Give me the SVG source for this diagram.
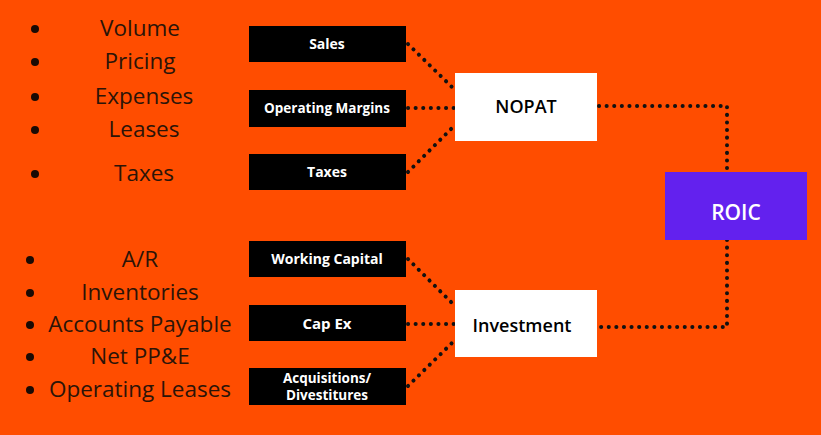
<svg xmlns="http://www.w3.org/2000/svg" width="821" height="435" viewBox="0 0 821 435">
<style>
.bl{fill:#000}
.bt{fill:#fff;font-family:"Open Sans",sans-serif;font-weight:bold;font-size:14px;text-anchor:middle}
.wt{fill:#000;font-family:"Open Sans",sans-serif;font-size:18px;font-weight:600;text-anchor:middle}
.lt{fill:#2b1408;font-family:"Open Sans",sans-serif;font-size:22.5px;text-anchor:middle}
.dot{fill:#1a0a04}
.c{fill:none;stroke:#111;stroke-width:4;stroke-dasharray:0.1 7.5;stroke-linecap:round}
</style>
<rect width="821" height="435" fill="#FF4D00"/>
<g id="left-list">
<circle class="dot" cx="35" cy="29" r="4"/><text class="lt" x="140" y="36">Volume</text>
<circle class="dot" cx="35" cy="62" r="4"/><text class="lt" x="140" y="69">Pricing</text>
<circle class="dot" cx="35" cy="97" r="4"/><text class="lt" x="144" y="104">Expenses</text>
<circle class="dot" cx="35" cy="130" r="4"/><text class="lt" x="144" y="137">Leases</text>
<circle class="dot" cx="35" cy="174" r="4"/><text class="lt" x="144" y="181">Taxes</text>
<circle class="dot" cx="30" cy="260" r="4"/><text class="lt" x="140" y="267">A/R</text>
<circle class="dot" cx="30" cy="293" r="4"/><text class="lt" x="140" y="300">Inventories</text>
<circle class="dot" cx="30" cy="325" r="4"/><text class="lt" x="140" y="332">Accounts Payable</text>
<circle class="dot" cx="30" cy="357" r="4"/><text class="lt" x="140" y="364">Net PP&amp;E</text>
<circle class="dot" cx="30" cy="390" r="4"/><text class="lt" x="140" y="397">Operating Leases</text>
</g>
<g id="connectors">
<path class="c" d="M408 44 L455 90"/>
<path class="c" d="M408 108 L455 108"/>
<path class="c" d="M408 172 L455 125"/>
<path class="c" d="M599 106 L727 106 L727 172"/>
<path class="c" d="M727 240 L727 327 L599 327"/>
<path class="c" d="M408 259 L455 306"/>
<path class="c" d="M408 324 L455 324"/>
<path class="c" d="M408 386 L455 340"/>
</g>
<g id="sales"><rect class="bl" x="249" y="26" width="157" height="36"/><text class="bt" x="327" y="49">Sales</text></g>
<g id="opmargins"><rect class="bl" x="249" y="90" width="157" height="37"/><text class="bt" x="327" y="113" style="font-size:13.5px">Operating Margins</text></g>
<g id="taxes"><rect class="bl" x="249" y="154" width="157" height="36"/><text class="bt" x="327" y="177">Taxes</text></g>
<g id="wc"><rect class="bl" x="249" y="241" width="157" height="36"/><text class="bt" x="327" y="264" style="font-size:14px">Working Capital</text></g>
<g id="capex"><rect class="bl" x="249" y="305" width="157" height="36"/><text class="bt" x="327" y="329" style="font-size:15px">Cap Ex</text></g>
<g id="acq"><rect class="bl" x="249" y="368" width="157" height="37"/><text class="bt" x="327" y="383" style="font-size:13.5px">Acquisitions/</text><text class="bt" x="327" y="400" style="font-size:13.5px">Divestitures</text></g>
<g id="nopat"><rect fill="#fff" x="455" y="73" width="142" height="68"/><text class="wt" x="526" y="113">NOPAT</text></g>
<g id="investment"><rect fill="#fff" x="455" y="290" width="142" height="67"/><text class="wt" x="522" y="332">Investment</text></g>
<g id="roic"><rect fill="#6321EE" x="665" y="172" width="142" height="68"/><text class="wt" x="736" y="220" style="fill:#fff;font-size:21px">ROIC</text></g>
</svg>
